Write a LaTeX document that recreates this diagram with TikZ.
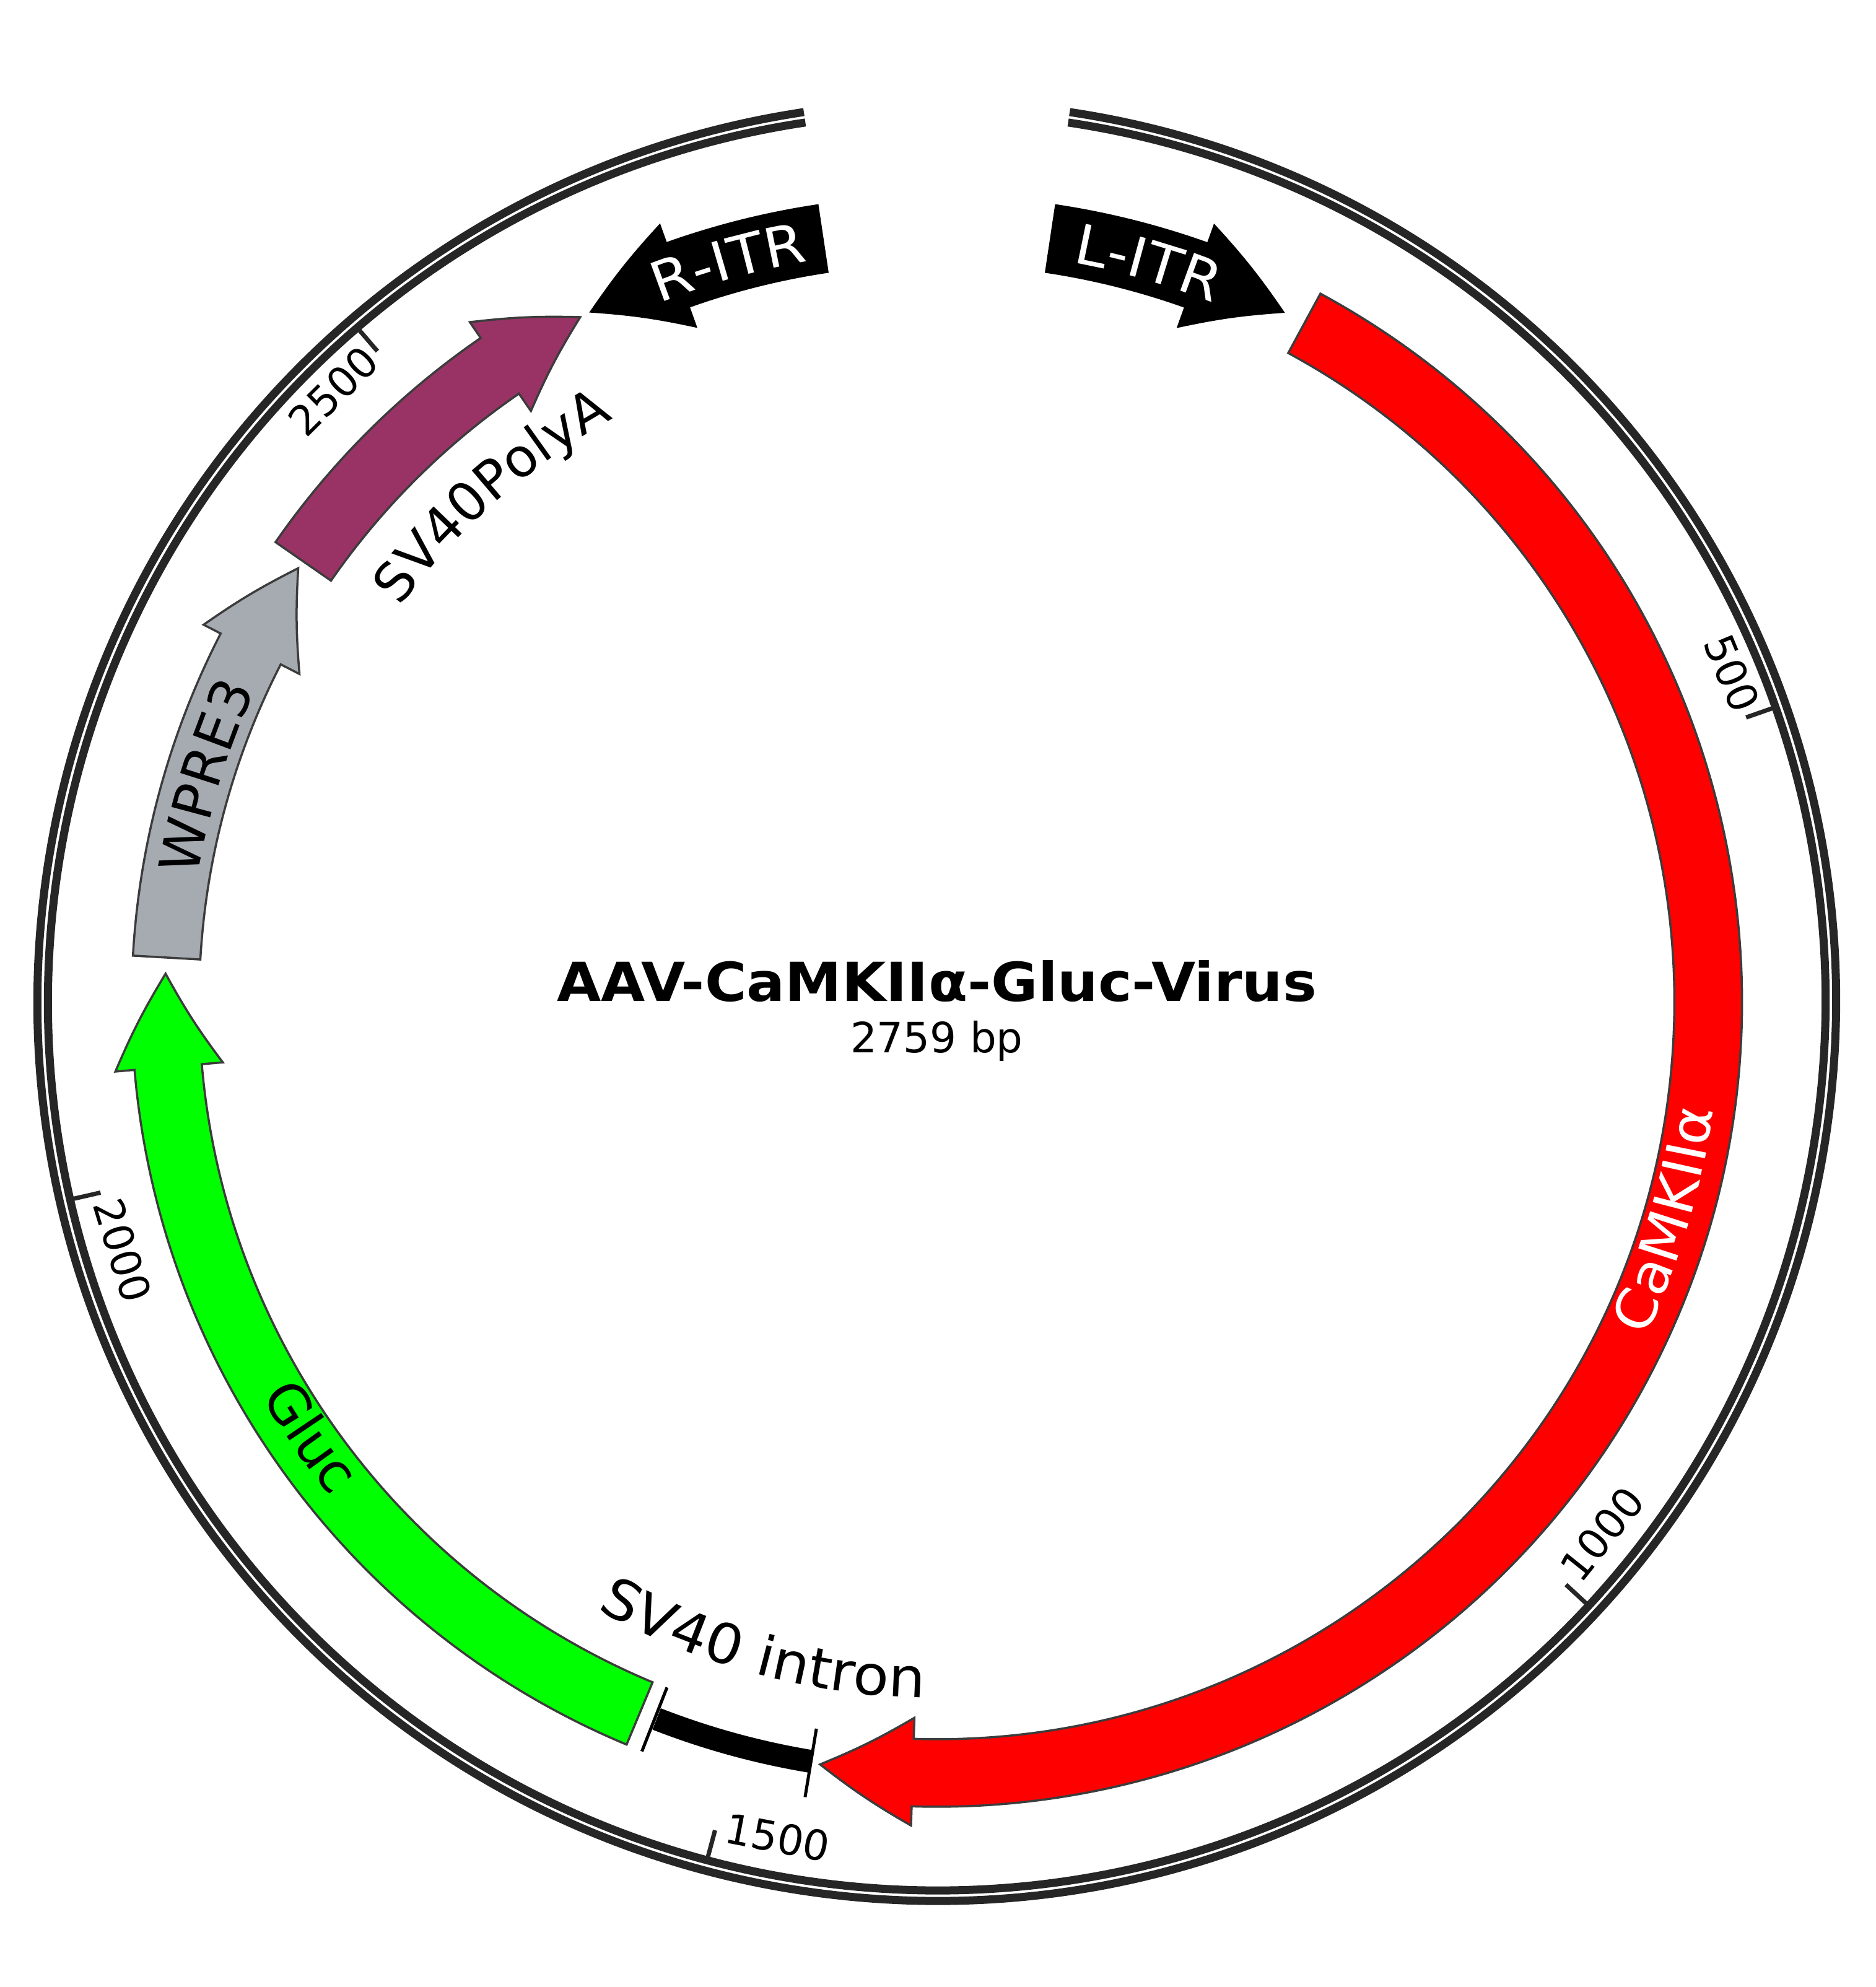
\documentclass[tikz,border=0pt]{standalone}
\usepackage{fontspec}
\setmainfont{DejaVu Sans}
\newfontfamily\widefont[FakeStretch=1.06]{DejaVu Sans}
\usetikzlibrary{decorations.text}
\definecolor{camkred}{RGB}{255,0,0}
\definecolor{glucgreen}{RGB}{0,255,0}
\definecolor{wpregrey}{RGB}{166,171,178}
\definecolor{polypurple}{RGB}{153,51,102}
\definecolor{ringgrey}{RGB}{38,38,38}
\definecolor{featline}{RGB}{60,60,60}
\newcommand{\ftfont}{\widefont\fontsize{25.3}{30}\selectfont}
\newcommand{\ftplain}{\fontsize{25.3}{30}\selectfont}
\tikzset{
    ringline/.style={draw=ringgrey,line width=0.13cm},
    feat/.style={draw=featline,line width=0.035cm},
    itrfeat/.style={draw=black,fill=black,line width=0.03cm},
    tickmark/.style={draw=ringgrey,line width=0.07cm},
    intronmark/.style={draw=black,line width=0.05cm},
    ticklabel/.style={anchor=base,inner sep=0pt,font=\fontsize{19}{23}\selectfont},
    arclabel/.style={decorate,decoration={text along path,text align=center,text={#1}}}
}
\begin{document}
\begin{tikzpicture}
    \useasboundingbox (-15.125,-15.91) rectangle (15.165,16.17);
    % backbone
    \draw[ringline] (81.5:14.52) arc[start angle=81.5,end angle=-261.5,radius=14.52];
    \draw[ringline] (81.5:14.35) arc[start angle=81.5,end angle=-261.5,radius=14.35];
    \foreach \bp/\ang/\labang/\labrad/\turn in {500/19.34/22.44/13.65/-90,1000/-42.82/-38.67/14.00/90,1500/-104.98/-100.77/13.98/90,2000/-167.13/-162.99/13.99/90,2500/-229.3/134.67/13.62/-90} {
        \draw[tickmark] (\ang:14.31) to (\ang:13.85);
        \node[ticklabel,rotate=\labang+\turn] (tick\bp) at (\labang:\labrad) {\bp};
    }
    % features
    \draw[feat,fill=camkred] (61.54:13.00) arc[start angle=61.54,end angle=-91.79,radius=13.00] -- (-91.79:13.31) to[bend left=4] (-98.7:12.46) to[bend right=4] (-91.79:11.57) -- (-91.79:11.91) arc[start angle=-91.79,end angle=61.54,radius=11.91] -- cycle;
    \draw[feat,fill=glucgreen] (247.34:13.00) arc[start angle=247.34,end angle=184.87,radius=13.00] -- (184.87:13.31) to[bend left=4] (177.93:12.46) to[bend right=4] (184.87:11.57) -- (184.87:11.91) arc[start angle=184.87,end angle=247.34,radius=11.91] -- cycle;
    \draw[feat,fill=wpregrey] (176.73:13.00) arc[start angle=176.73,end angle=152.8,radius=13.00] -- (152.8:13.31) to[bend left=4] (145.84:12.46) to[bend right=4] (152.8:11.57) -- (152.8:11.91) arc[start angle=152.8,end angle=176.73,radius=11.91] -- cycle;
    \draw[feat,fill=polypurple] (145.21:13.00) arc[start angle=145.21,end angle=124.5,radius=13.00] -- (124.5:13.31) to[bend left=4] (117.52:12.46) to[bend right=4] (124.5:11.57) -- (124.5:11.91) arc[start angle=124.5,end angle=145.21,radius=11.91] -- cycle;
    \draw[itrfeat] (98.51:13.00) arc[start angle=98.51,end angle=109.64,radius=13.00] -- (109.64:13.31) to[bend right=4] (116.63:12.46) to[bend left=4] (109.64:11.57) -- (109.64:11.91) arc[start angle=109.64,end angle=98.51,radius=11.91] -- cycle;
    \draw[itrfeat] (81.49:13.00) arc[start angle=81.49,end angle=70.32,radius=13.00] -- (70.32:13.31) to[bend left=4] (63.32:12.46) to[bend right=4] (70.32:11.57) -- (70.32:11.91) arc[start angle=70.32,end angle=81.49,radius=11.91] -- cycle;
    \fill[black] (260.54:12.62) arc[start angle=260.54,end angle=248.67,radius=12.62] -- (248.67:12.25) arc[start angle=248.67,end angle=260.54,radius=12.25] -- cycle;
    \draw[intronmark] (248.53:11.90) to (248.53:13.01);
    \draw[intronmark] (260.6:11.90) to (260.6:13.02);
    % feature names
    \path[arclabel={|\ftfont\color{white}|CaMKIIα}] (-36.6:12.66) arc[start angle=-36.6,end angle=3.4,radius=12.66];
    \path[arclabel={|\ftplain|Gluc}] (194.8:12.63) arc[start angle=194.8,end angle=234.8,radius=12.63];
    \path[arclabel={|\ftfont|SV40 intron}] (234.9:11.24) arc[start angle=234.9,end angle=274.9,radius=11.24];
    \path[arclabel={|\ftplain|WPRE3}] (182.9:12.10) arc[start angle=182.9,end angle=142.9,radius=12.10];
    \path[arclabel={|\fontsize{24.6}{30}\selectfont|SV40PolyA}] (151.33:10.76) arc[start angle=151.33,end angle=111.33,radius=10.76];
    \path[arclabel={|\ftfont\color{white}|R-ITR}] (125.76:12.13) arc[start angle=125.76,end angle=85.76,radius=12.13];
    \path[arclabel={|\ftfont\color{white}|L-ITR}] (94:12.13) arc[start angle=94,end angle=54,radius=12.13];
    % centre
    \node[anchor=base,inner sep=0pt,font=\widefont\fontsize{24.7}{30}\selectfont\bfseries] (title) at (0,0) {AAV-CaMKIIα-Gluc-Virus};
    \node[anchor=base,inner sep=0pt,font=\fontsize{19.2}{23}\selectfont] (size) at (0,-0.83) {2759 bp};
\end{tikzpicture}
\end{document}
